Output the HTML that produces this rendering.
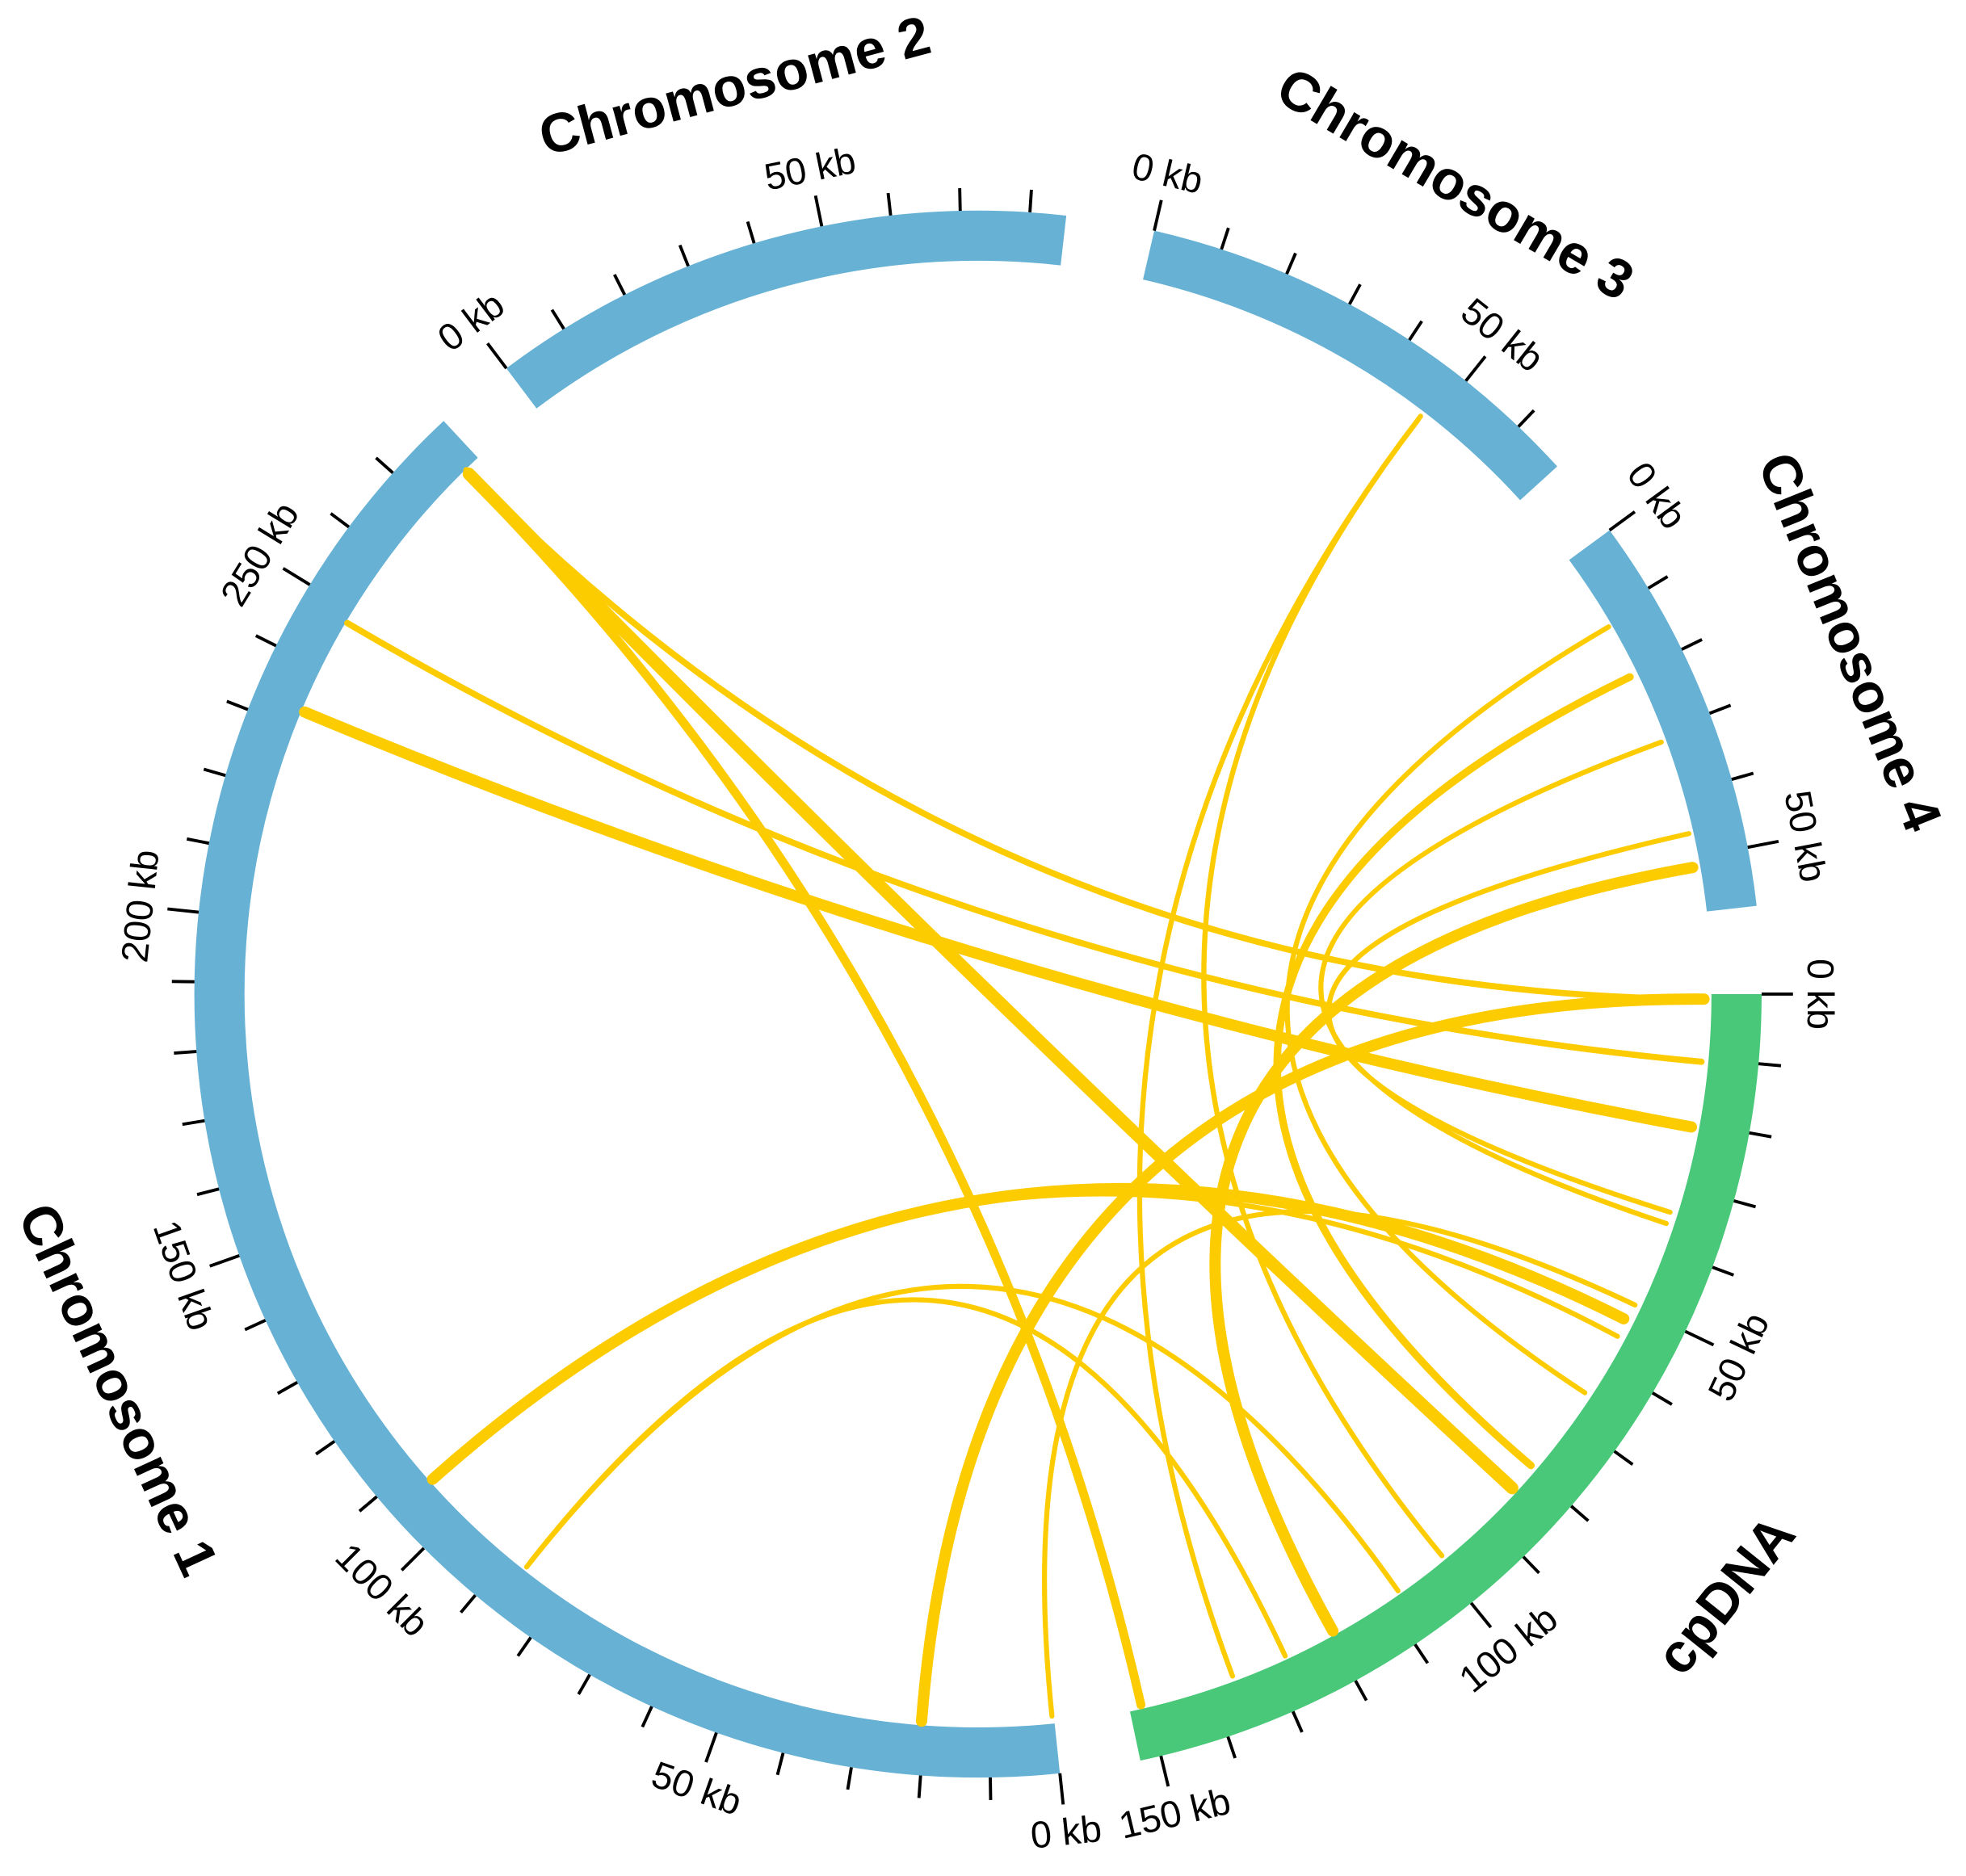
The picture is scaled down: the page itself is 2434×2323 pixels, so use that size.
<!DOCTYPE html>
<html><head><meta charset="utf-8"><style>
html,body{margin:0;padding:0;background:#fff;width:2434px;height:2323px;overflow:hidden;}
svg{display:block;}
text{font-family:"Liberation Sans",Arial,sans-serif;fill:#000;}
.t{font-size:30px;}
.h{font-size:44px;font-weight:bold;}
</style></head><body>
<svg width="2434" height="2323" viewBox="0 0 1568 1496.5" xmlns="http://www.w3.org/2000/svg">
<rect width="1568" height="1497" fill="#fff"/>
<g transform="translate(780 793)">
<g fill="none" stroke-width="40">
<circle r="605" stroke="#66B1D4" stroke-dasharray="1510 4000" transform="rotate(84)"/>
<circle r="605" stroke="#66B1D4" stroke-dasharray="459 4000" transform="rotate(233)"/>
<circle r="605" stroke="#66B1D4" stroke-dasharray="366 4000" transform="rotate(-77)"/>
<circle r="605" stroke="#66B1D4" stroke-dasharray="315 4000" transform="rotate(-36.3)"/>
<circle r="605" stroke="#48C878" stroke-dasharray="824 4000" transform="rotate(0)"/>
</g>
<g stroke="#000" stroke-width="2.5">
<line y1="-625" y2="-643" transform="rotate(179.1)"/><line y1="-625" y2="-643" transform="rotate(184.2)"/><line y1="-625" y2="-643" transform="rotate(189.3)"/><line y1="-625" y2="-643" transform="rotate(194.4)"/><line y1="-625" y2="-643" transform="rotate(204.6)"/><line y1="-625" y2="-643" transform="rotate(209.7)"/><line y1="-625" y2="-643" transform="rotate(214.8)"/><line y1="-625" y2="-643" transform="rotate(219.9)"/><line y1="-625" y2="-643" transform="rotate(230.1)"/><line y1="-625" y2="-643" transform="rotate(235.2)"/><line y1="-625" y2="-643" transform="rotate(240.3)"/><line y1="-625" y2="-643" transform="rotate(245.4)"/><line y1="-625" y2="-643" transform="rotate(255.6)"/><line y1="-625" y2="-643" transform="rotate(260.7)"/><line y1="-625" y2="-643" transform="rotate(265.8)"/><line y1="-625" y2="-643" transform="rotate(270.9)"/><line y1="-625" y2="-643" transform="rotate(281.1)"/><line y1="-625" y2="-643" transform="rotate(286.2)"/><line y1="-625" y2="-643" transform="rotate(291.3)"/><line y1="-625" y2="-643" transform="rotate(296.4)"/><line y1="-625" y2="-643" transform="rotate(306.6)"/><line y1="-625" y2="-643" transform="rotate(311.7)"/>
<line y1="-625" y2="-650" transform="rotate(174)"/><line y1="-625" y2="-650" transform="rotate(199.5)"/><line y1="-625" y2="-650" transform="rotate(225)"/><line y1="-625" y2="-650" transform="rotate(250.5)"/><line y1="-625" y2="-650" transform="rotate(276)"/><line y1="-625" y2="-650" transform="rotate(301.5)"/>
<line y1="-625" y2="-643" transform="rotate(328.1)"/><line y1="-625" y2="-643" transform="rotate(333.2)"/><line y1="-625" y2="-643" transform="rotate(338.3)"/><line y1="-625" y2="-643" transform="rotate(343.4)"/><line y1="-625" y2="-643" transform="rotate(353.6)"/><line y1="-625" y2="-643" transform="rotate(358.7)"/><line y1="-625" y2="-643" transform="rotate(363.8)"/>
<line y1="-625" y2="-650" transform="rotate(323)"/><line y1="-625" y2="-650" transform="rotate(348.5)"/>
<line y1="-625" y2="-643" transform="rotate(18.1)"/><line y1="-625" y2="-643" transform="rotate(23.2)"/><line y1="-625" y2="-643" transform="rotate(28.3)"/><line y1="-625" y2="-643" transform="rotate(33.4)"/><line y1="-625" y2="-643" transform="rotate(43.6)"/>
<line y1="-625" y2="-650" transform="rotate(13)"/><line y1="-625" y2="-650" transform="rotate(38.5)"/>
<line y1="-625" y2="-643" transform="rotate(58.8)"/><line y1="-625" y2="-643" transform="rotate(63.9)"/><line y1="-625" y2="-643" transform="rotate(69)"/><line y1="-625" y2="-643" transform="rotate(74.1)"/>
<line y1="-625" y2="-650" transform="rotate(53.7)"/><line y1="-625" y2="-650" transform="rotate(79.2)"/>
<line y1="-625" y2="-643" transform="rotate(95.1)"/><line y1="-625" y2="-643" transform="rotate(100.2)"/><line y1="-625" y2="-643" transform="rotate(105.3)"/><line y1="-625" y2="-643" transform="rotate(110.4)"/><line y1="-625" y2="-643" transform="rotate(120.6)"/><line y1="-625" y2="-643" transform="rotate(125.7)"/><line y1="-625" y2="-643" transform="rotate(130.8)"/><line y1="-625" y2="-643" transform="rotate(135.9)"/><line y1="-625" y2="-643" transform="rotate(146.1)"/><line y1="-625" y2="-643" transform="rotate(151.2)"/><line y1="-625" y2="-643" transform="rotate(156.3)"/><line y1="-625" y2="-643" transform="rotate(161.4)"/>
<line y1="-625" y2="-650" transform="rotate(90)"/><line y1="-625" y2="-650" transform="rotate(115.5)"/><line y1="-625" y2="-650" transform="rotate(141)"/><line y1="-625" y2="-650" transform="rotate(166.5)"/>
</g>
<g class="t" text-anchor="middle" dominant-baseline="central">
<text transform="rotate(174) translate(0 -672) rotate(180)">0 kb</text>
<text transform="rotate(199.5) translate(0 -672) rotate(180)">50 kb</text>
<text transform="rotate(225) translate(0 -672) rotate(180)">100 kb</text>
<text transform="rotate(250.5) translate(0 -672) rotate(180)">150 kb</text>
<text transform="rotate(276) translate(0 -672)">200 kb</text>
<text transform="rotate(301.5) translate(0 -672)">250 kb</text>
<text transform="rotate(323) translate(0 -672)">0 kb</text>
<text transform="rotate(348.5) translate(0 -672)">50 kb</text>
<text transform="rotate(13) translate(0 -672)">0 kb</text>
<text transform="rotate(38.5) translate(0 -672)">50 kb</text>
<text transform="rotate(53.7) translate(0 -672)">0 kb</text>
<text transform="rotate(79.2) translate(0 -672)">50 kb</text>
<text transform="rotate(90) translate(0 -672)">0 kb</text>
<text transform="rotate(115.5) translate(0 -672) rotate(180)">50 kb</text>
<text transform="rotate(141) translate(0 -672) rotate(180)">100 kb</text>
<text transform="rotate(166.5) translate(0 -672) rotate(180)">150 kb</text>
</g>
<g class="h" text-anchor="middle" dominant-baseline="central">
<text transform="rotate(345) translate(0 -750)">Chromosome 2</text>
<text transform="rotate(30.5) translate(0 -750)">Chromosome 3</text>
<text transform="rotate(68) translate(0 -750)">Chromosome 4</text>
<text transform="rotate(245.3) translate(0 -755) rotate(180)">Chromosome 1</text>
<text transform="rotate(128.8) translate(0 -765) rotate(180)">cpDNA</text>
</g>
</g>
<g fill="none" stroke="#FCCB00" stroke-linecap="round">
<path d="M372 375 Q780 793 1359 797" stroke-width="5"/>
<path d="M374 378 Q780 793 1206 1187" stroke-width="10"/>
<path d="M376 382 Q780 793 910 1360" stroke-width="7"/>
<path d="M277 497 Q780 793 1357 847" stroke-width="5"/>
<path d="M243 568 Q780 793 1349 899" stroke-width="9"/>
<path d="M345 1180 Q780 793 1295 1052" stroke-width="9"/>
<path d="M348 1176 Q780 793 1290 1066" stroke-width="4"/>
<path d="M420 1250 Q780 793 1115 1269" stroke-width="4"/>
<path d="M423 1246 Q780 793 1025 1321" stroke-width="4"/>
<path d="M735 1373 Q780 793 1359 797" stroke-width="9"/>
<path d="M839 1369 Q780 793 1304 1041" stroke-width="4"/>
<path d="M1133 332 Q780 793 983 1337" stroke-width="4"/>
<path d="M1131 335 Q780 793 1150 1241" stroke-width="4"/>
<path d="M1283 500 Q780 793 1264 1111" stroke-width="4"/>
<path d="M1300 540 Q780 793 1221 1169" stroke-width="6"/>
<path d="M1325 592 Q780 793 1329 976" stroke-width="4"/>
<path d="M1347 665 Q780 793 1332 967" stroke-width="4"/>
<path d="M1350 692 Q780 793 1063 1301" stroke-width="9"/>
</g>
</svg>
</body></html>
